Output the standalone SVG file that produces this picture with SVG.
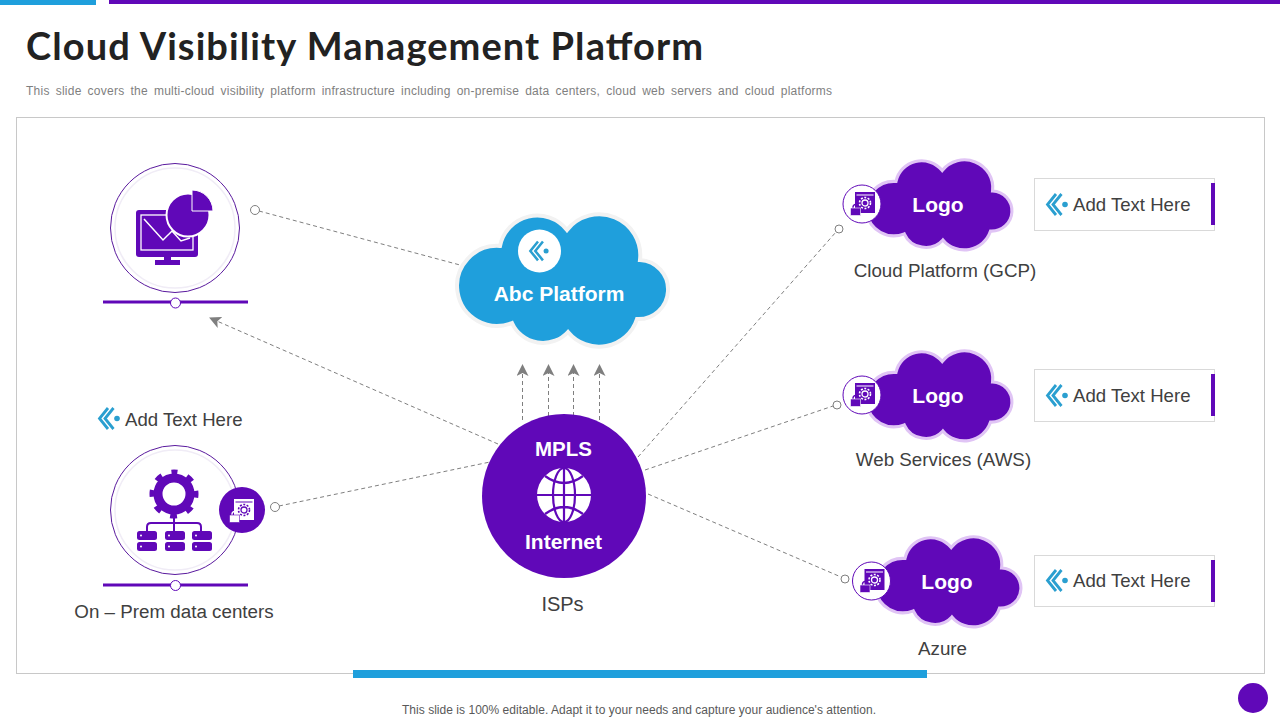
<svg xmlns="http://www.w3.org/2000/svg" width="1280" height="720" viewBox="0 0 1280 720">
<style>
text{font-family:"Liberation Sans",Arial,sans-serif}
.lbl{font-size:18.6px;fill:#404040}
.lblc{font-size:18.8px;fill:#404040;text-anchor:middle}
.wb{font-weight:bold;fill:#fff;text-anchor:middle}
.dash{fill:none;stroke:#7f7f7f;stroke-width:1;stroke-dasharray:4 3}
.end{fill:#fff;stroke:#7f7f7f;stroke-width:1}
.box{fill:#fff;stroke:#d9d9d9;stroke-width:1}
.bar{fill:#6008b8}
.p{fill:#6008b8}
.ring{fill:#fff;stroke:#5a1a9e;stroke-width:1}
.ring2{fill:none;stroke:#f0ecf6;stroke-width:1.5}
.rule{stroke:#6008b8;stroke-width:3}
.knob{fill:#fff;stroke:#6008b8;stroke-width:1}
</style>
<defs>
<marker id="ah" viewBox="0 0 12 12" refX="11" refY="6" markerWidth="12" markerHeight="12" markerUnits="userSpaceOnUse" orient="auto"><path d="M0,0 L12,6 L0,12 L3,6 Z" fill="#7f7f7f"/></marker>
<path id="cloud" d="M42,33 A38,38 0 0 1 109,17 A41,41 0 0 1 182,47 A29.5,29.5 0 0 1 179,106 A40,40 0 0 1 110,119 A34,34 0 0 1 54,110 A40,40 0 1 1 42,33 Z"/>
<g id="chev"><path d="M10,0 L1.500,10.500 L10,21 M15.500,0 L7,10.500 L15.500,21" fill="none" stroke="#2a9fd0" stroke-width="2.800"/><circle cx="19" cy="10.500" r="2.800" fill="#2a9fd0"/></g>
<g id="lockgear">
<rect x="-7" y="-12" width="20" height="21" fill="currentColor"/>
<rect x="-5.500" y="-9.500" width="17" height="1" fill="var(--bg)"/>
<circle cx="3" cy="-1" r="3" fill="none" stroke="var(--bg)" stroke-width="1.300"/>
<circle cx="3" cy="-1" r="5.500" fill="none" stroke="var(--bg)" stroke-width="1.600" stroke-dasharray="2 1.500"/>
<path d="M-9,5 v-2 a2.500,2.500 0 0 1 5,0 v2" fill="none" stroke="currentColor" stroke-width="1.400"/>
<rect x="-11.500" y="4" width="10" height="7.500" fill="currentColor" stroke="var(--bg)" stroke-width=".6"/>
</g>
<g id="pill"><rect x="0" y="0" width="20" height="9" rx="2.500" class="p"/><circle cx="4" cy="4.500" r="1" fill="#fff"/></g>
</defs>

<rect width="1280" height="720" fill="#fff"/>
<rect x="0" y="0" width="96" height="5" fill="#1f9fdc"/>
<rect x="109" y="0" width="1171" height="4" fill="#6008b8"/>

<text x="26" y="60" style="font-family:Lato,'Liberation Sans',sans-serif" font-size="38" font-weight="bold" fill="#222" textLength="677">Cloud Visibility Management Platform</text>
<text x="26" y="94.500" font-size="12" fill="#7f7f7f" word-spacing="2.500" textLength="806">This slide covers the multi-cloud visibility platform infrastructure including on-premise data centers, cloud web servers and cloud platforms</text>

<rect x="16.500" y="117.500" width="1248" height="556" fill="#fff" stroke="#c8c8c8" stroke-width="1"/>
<rect x="353" y="670" width="574" height="8" fill="#1f9fdc"/>

<g id="connectors">
<line class="dash" x1="259" y1="211" x2="460" y2="265"/>
<line class="dash" x1="498" y1="444" x2="210" y2="318" marker-end="url(#ah)"/>
<line class="dash" x1="279" y1="506" x2="490" y2="462"/>
<line class="dash" x1="522.500" y1="420" x2="522.500" y2="365" marker-end="url(#ah)"/>
<line class="dash" x1="548.500" y1="416" x2="548.500" y2="365" marker-end="url(#ah)"/>
<line class="dash" x1="573.500" y1="416" x2="573.500" y2="365" marker-end="url(#ah)"/>
<line class="dash" x1="599.500" y1="420" x2="599.500" y2="365" marker-end="url(#ah)"/>
<line class="dash" x1="638" y1="457" x2="836" y2="232"/>
<line class="dash" x1="645" y1="470" x2="833" y2="406"/>
<line class="dash" x1="648" y1="494" x2="841" y2="577"/>
<circle class="end" cx="255" cy="210" r="4.500"/>
<circle class="end" cx="275" cy="507" r="4.500"/>
<circle class="end" cx="839" cy="229" r="4"/>
<circle class="end" cx="837" cy="405" r="4"/>
<circle class="end" cx="845" cy="579" r="4"/>
</g>

<g id="node-dashboard">
<circle class="ring" cx="175" cy="228" r="64.500"/>
<circle class="ring2" cx="175" cy="228" r="60"/>
<rect x="136" y="210" width="62" height="47" rx="3" class="p"/>
<rect x="141" y="215" width="52" height="35" fill="none" stroke="#fff" stroke-width="1.300"/>
<path d="M144,219 L163,240 L172,231 L181,241 L190,238" fill="none" stroke="#fff" stroke-width="1.500"/>
<rect x="164" y="257" width="7" height="5" class="p"/>
<rect x="155" y="260" width="25" height="5" class="p"/>
<circle cx="188" cy="215" r="21.500" class="p" stroke="#fff" stroke-width="2"/>
<path d="M192,190 A21,21 0 0 1 213,211 L192,211 Z" class="p" stroke="#fff" stroke-width="1"/>
<line class="rule" x1="103" y1="302" x2="248" y2="302"/>
<circle class="knob" cx="175.500" cy="303" r="5"/>
</g>

<g id="node-onprem">
<use href="#chev" x="98" y="408"/>
<text class="lbl" x="125" y="426">Add Text Here</text>
<circle class="ring" cx="175" cy="510" r="64.500"/>
<circle class="ring2" cx="175" cy="510" r="60"/>
<circle cx="174" cy="494" r="16" fill="none" stroke="#6008b8" stroke-width="9"/>
<circle cx="174" cy="494" r="22" fill="none" stroke="#6008b8" stroke-width="5" stroke-dasharray="7 10.280" stroke-dashoffset="3.500" transform="rotate(-90 174 494)"/>
<path d="M174,515 V531 M147,531 V527 Q147,523 151,523 H197 Q201,523 201,527 V531" fill="none" stroke="#6008b8" stroke-width="2"/>
<use href="#pill" x="137" y="531"/><use href="#pill" x="165" y="531"/><use href="#pill" x="192" y="531"/>
<use href="#pill" x="137" y="542"/><use href="#pill" x="165" y="542"/><use href="#pill" x="192" y="542"/>
<circle cx="242" cy="510" r="23" class="p"/>
<use href="#lockgear" x="241" y="511" style="color:#fff;--bg:#6008b8"/>
<line class="rule" x1="103" y1="585" x2="248" y2="585"/>
<circle class="knob" cx="175.500" cy="585.500" r="5"/>
<text class="lblc" x="174" y="618">On – Prem data centers</text>
</g>

<g id="node-abc">
<use href="#cloud" transform="translate(458,213)" fill="#1f9fdc" stroke="#f2f2f2" stroke-width="4"/>
<circle cx="539.500" cy="251" r="21.500" fill="#fff"/>
<use href="#chev" transform="translate(529,241.500) scale(.9)"/>
<text class="wb" x="559" y="301" font-size="21">Abc Platform</text>
</g>

<g id="node-isp">
<circle cx="564" cy="496" r="82" class="p"/>
<text class="wb" x="563.500" y="456" font-size="20.500">MPLS</text>
<circle cx="564" cy="495" r="27" fill="#fff"/>
<g fill="none" stroke="#6008b8" stroke-width="2.200">
<ellipse cx="564" cy="495" rx="11" ry="27"/>
<path d="M564,468 V522 M537,495 H591 M545,476 Q564,490 583,476 M545,514 Q564,500 583,514"/>
</g>
<text class="wb" x="563.500" y="549" font-size="21">Internet</text>
<text class="lblc" x="562.500" y="611" style="font-size:20px">ISPs</text>
</g>

<g id="node-gcp">
<use href="#cloud" transform="translate(867,159) scale(.69,.68)" fill="#6008b8" stroke="#e0c4f5" stroke-width="4.500"/>
<circle cx="862" cy="204" r="19" fill="#fff" stroke="#6008b8" stroke-width="1"/>
<use href="#lockgear" x="862" y="204" style="color:#6008b8;--bg:#fff"/>
<text class="wb" x="938" y="212" font-size="21">Logo</text>
<text class="lblc" x="945" y="277">Cloud Platform (GCP)</text>
</g>
<g id="text-gcp">
<rect class="box" x="1034.500" y="178.500" width="180" height="52"/>
<rect class="bar" x="1211" y="183" width="4" height="42"/>
<use href="#chev" x="1046" y="194"/>
<text class="lbl" x="1073" y="211">Add Text Here</text>
</g>

<g id="node-aws">
<use href="#cloud" transform="translate(867,350) scale(.69,.68)" fill="#6008b8" stroke="#e0c4f5" stroke-width="4.500"/>
<circle cx="862" cy="395" r="19" fill="#fff" stroke="#6008b8" stroke-width="1"/>
<use href="#lockgear" x="862" y="395" style="color:#6008b8;--bg:#fff"/>
<text class="wb" x="938" y="403" font-size="21">Logo</text>
<text class="lblc" x="943.500" y="466">Web Services (AWS)</text>
</g>
<g id="text-aws">
<rect class="box" x="1034.500" y="369.500" width="180" height="52"/>
<rect class="bar" x="1211" y="374" width="4" height="42"/>
<use href="#chev" x="1046" y="385"/>
<text class="lbl" x="1073" y="402">Add Text Here</text>
</g>

<g id="node-azure">
<use href="#cloud" transform="translate(876,536) scale(.69,.68)" fill="#6008b8" stroke="#e0c4f5" stroke-width="4.500"/>
<circle cx="871.500" cy="581" r="19" fill="#fff" stroke="#6008b8" stroke-width="1"/>
<use href="#lockgear" x="871.500" y="581" style="color:#6008b8;--bg:#fff"/>
<text class="wb" x="947" y="589" font-size="21">Logo</text>
<text class="lblc" x="942.500" y="655">Azure</text>
</g>
<g id="text-azure">
<rect class="box" x="1034.500" y="555.500" width="180" height="51"/>
<rect class="bar" x="1211" y="560" width="4" height="42"/>
<use href="#chev" x="1046" y="570"/>
<text class="lbl" x="1073" y="587">Add Text Here</text>
</g>

<text x="639" y="714" font-size="12" fill="#595959" text-anchor="middle" textLength="474">This slide is 100% editable. Adapt it to your needs and capture your audience's attention.</text>
<circle cx="1253" cy="698" r="15" class="p"/>
</svg>
